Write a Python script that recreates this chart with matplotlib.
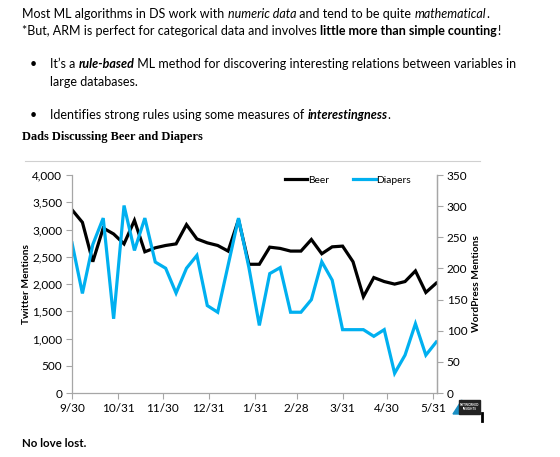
import numpy as np
import pandas as pd
import matplotlib
matplotlib.use('Agg')
import matplotlib.pyplot as plt
from matplotlib.lines import Line2D
from matplotlib.patches import Polygon, Rectangle

# weekly mentions
weeks = pd.date_range('2012-09-30', periods=36, freq='7D')
beer = [3362, 3131, 2409, 3027, 2918, 2736, 3167, 2591, 2664, 2707, 2736, 3089,
        2827, 2755, 2707, 2604, 3180, 2362, 2362, 2676, 2653, 2604, 2604, 2816,
        2555, 2682, 2695, 2409, 1767, 2118, 2045, 1998, 2045, 2240, 1845, 2016]
diapers = [2755, 1827, 2725, 3209, 1362, 3440, 2616, 3209, 2403, 2289, 1834, 2289,
           2525, 1604, 1482, 2345, 3209, 2300, 1240, 2191, 2300, 1482, 1482, 1713,
           2409, 2071, 1162, 1162, 1162, 1040, 1162, 362, 695, 1271, 695, 936]
tick_dates = ['2012-09-30', '2012-10-31', '2012-11-30', '2012-12-31', '2013-01-31',
              '2013-02-28', '2013-03-31', '2013-04-30', '2013-05-31']
tick_labels = ['9/30', '10/31', '11/30', '12/31', '1/31', '2/28', '3/31', '4/30', '5/31']
left_ticks = [0, 500, 1000, 1500, 2000, 2500, 3000, 3500, 4000]
right_ticks = [0, 50, 100, 150, 200, 250, 300, 350]

W, H = 560, 457
fig = plt.figure(figsize=(W / 100, H / 100), dpi=100)
renderer = fig.canvas.get_renderer()

FONT = 'Lato'
GRAY = '#a6a6a6'
BLUE = '#00b0f0'


def fx(px):
    return px / W


def fy(py):
    return 1 - py / H


def rich(x, y, parts, size=9.0):
    # draw text pieces one after another on a baseline (pixel coords)
    for s, style, weight in parts:
        t = fig.text(fx(x), fy(y), s, fontsize=size, family=FONT, style=style,
                     weight=weight, va='baseline', ha='left')
        bb = t.get_window_extent(renderer)
        x = bb.x1


N, I, B = 'normal', 'italic', 'bold'
rich(22, 17.5, [('Most ML algorithms in DS work with ', N, N), ('numeric data', I, N),
                (' and tend to be quite ', N, N), ('mathematical', I, N), ('.', N, N)])
rich(22, 35, [('*But, ARM is perfect for categorical data and involves ', N, N),
              ('little more than simple counting', N, B), ('!', N, N)])
fig.text(fx(30), fy(68.5), '\u2022', fontsize=9.0, family=FONT, va='baseline')
rich(50, 68.5, [('It\u2019s a ', N, N), ('rule-based', I, B),
                (' ML method for discovering interesting relations between variables in', N, N)])
rich(50, 86, [('large databases.', N, N)])
fig.text(fx(30), fy(118.5), '\u2022', fontsize=9.0, family=FONT, va='baseline')
rich(50, 118.5, [('Identifies strong rules using some measures of ', N, N),
                 ('interestingness', I, B), ('.', N, N)])
fig.text(fx(22), fy(140), 'Dads Discussing Beer and Diapers', fontsize=8.9,
         family='Liberation Serif', weight='bold', va='baseline')
fig.text(fx(22), fy(447), 'No love lost.', fontsize=8.3, family=FONT,
         weight='bold', va='baseline')

# thin frame line above chart
fig.add_artist(Line2D([fx(25), fx(480)], [fy(161), fy(161)], color='#d0d0d0', lw=0.8))

ax = fig.add_axes([fx(72), fy(393), fx(437) - fx(72), fy(175) - fy(393)])
ax.plot(weeks, beer, color='black', lw=2.3, label='Beer', solid_joinstyle='miter')
ax.plot(weeks, diapers, color=BLUE, lw=2.3, label='Diapers', solid_joinstyle='miter')
ax.set_xlim(weeks[0], weeks[0] + pd.Timedelta(days=245.5))
ax.set_ylim(0, 4000)
ax.set_yticks(left_ticks)
ax.set_yticklabels([f'{v:,}' for v in left_ticks])
ax.set_xticks(pd.to_datetime(tick_dates))
ax.set_xticklabels(tick_labels)
ax.spines['top'].set_visible(False)
for s in ['left', 'bottom', 'right']:
    ax.spines[s].set_color(GRAY)
    ax.spines[s].set_linewidth(0.9)
ax.tick_params(axis='both', colors=GRAY, labelcolor='black', length=4, width=0.8,
               labelsize=8.5, pad=3)
for lab in ax.get_xticklabels() + ax.get_yticklabels():
    lab.set_family(FONT)
ax.set_ylabel('Twitter Mentions', fontsize=7.3, weight='bold', family=FONT, labelpad=1)

ax2 = ax.twinx()
ax2.set_ylim(0, 350)
ax2.set_yticks(right_ticks)
for s in ['top', 'left', 'bottom']:
    ax2.spines[s].set_visible(False)
ax2.spines['right'].set_color(GRAY)
ax2.spines['right'].set_linewidth(0.9)
ax2.tick_params(axis='y', colors=GRAY, labelcolor='black', length=4, width=0.8,
                labelsize=8.5, pad=3)
for lab in ax2.get_yticklabels():
    lab.set_family(FONT)
ax2.set_ylabel('WordPress Mentions', fontsize=7.3, weight='bold', family=FONT, labelpad=3)

leg = ax.legend(loc='upper right', bbox_to_anchor=(0.955, 1.04), ncol=2, frameon=False,
                handlelength=2.2, handletextpad=0.05, columnspacing=2.4,
                prop={'family': FONT, 'size': 7.4})

# small logo mark
fig.add_artist(Polygon([[fx(453), fy(414)], [fx(462), fy(400)], [fx(462), fy(414)]],
                       closed=True, color='#1a8fc4'))
fig.add_artist(Rectangle((fx(459), fy(414)), fx(21), fy(400) - fy(414), color='#222222'))
fig.text(fx(469.5), fy(407), 'NETWORKED\nINSIGHTS', fontsize=2.2, color='white',
         ha='center', va='center', family=FONT, weight='bold', linespacing=1.0)
fig.add_artist(Line2D([fx(482), fx(482)], [fy(413), fy(421)], color='black', lw=2))

fig.savefig('out.png', dpi=100)
